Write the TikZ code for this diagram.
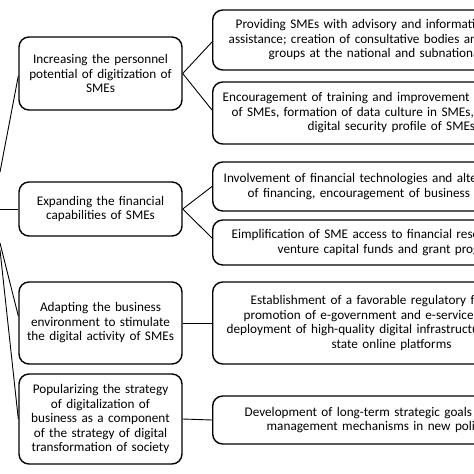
\documentclass[tikz,border=0pt]{standalone}
\usepackage{fontspec}
\setmainfont{Carlito}
\begin{document}
\begin{tikzpicture}[x=1pt,y=-1pt,
  txt/.style={font=\fontsize{13.2}{14.5}\selectfont},
  lbox/.style={txt, draw, line width=1.4pt, rounded corners=10pt, text width=160pt, align=center, inner sep=0pt, minimum width=163pt},
  rbox/.style={txt, draw, line width=1.4pt, rounded corners=10pt, anchor=west, text width=388pt, minimum width=388pt, align=left, inner sep=0pt},
  link/.style={line width=0.9pt}]
\useasboundingbox (0,0) rectangle (474,474);
\clip (0,0) rectangle (474,474);
\fill[white] (0,0) rectangle (474,474);

% left boxes
\node[lbox, minimum height=73pt] (b1) at (100.5,73.5) {Increasing the personnel\\potential of digitization of\\SMEs};
\node[lbox, minimum height=54pt] (b2) at (100.5,209) {Expanding the financial\\capabilities of SMEs};
\node[lbox, minimum height=82pt] (b3) at (100.5,323) {Adapting the business\\environment to stimulate\\the digital activity of SMEs};
\node[lbox, minimum height=90pt] (b4) at (100.5,419) {Popularizing the strategy\\of digitalization of\\business as a component\\of the strategy of digital\\transformation of society};

% right boxes
\node[rbox, minimum height=60pt] (r1) at (212,40) {\hspace*{23pt}Providing SMEs with advisory and information\\\hspace*{16pt}assistance; creation of consultative bodies and\\\hspace*{56pt}groups at the national and subnational};
\node[rbox, minimum height=62pt] (r2) at (212,113) {\hspace*{10pt}Encouragement of training and improvement\\\hspace*{19pt}of SMEs, formation of data culture in SMEs,\\\hspace*{95pt}digital security profile of SMEs};
\node[rbox, minimum height=49pt] (r3) at (212,186.5) {\hspace*{11pt}Involvement of financial technologies and alte\\\hspace*{35pt}of financing, encouragement of business};
\node[rbox, minimum height=45pt] (r4) at (212,242.5) {\hspace*{19pt}Eimplification of SME access to financial resc\\\hspace*{65pt}venture capital funds and grant prog};
\node[rbox, minimum height=82pt] (r5) at (212,323) {\hspace*{38pt}Establishment of a favorable regulatory f\\\hspace*{31pt}promotion of e-government and e-service\\\hspace*{14pt}deployment of high-quality digital infrastructu\\\hspace*{119pt}state online platforms};
\node[rbox, minimum height=48pt] (r6) at (212,420) {\hspace*{32pt}Development of long-term strategic goals\\\hspace*{54pt}management mechanisms in new poli};

% connectors from the (off-picture) root
\coordinate (s1) at (0,172);
\coordinate (s2) at (0,209);
\coordinate (s3) at (0,243);
\coordinate (s4) at (0,250);
\draw[link] (s1) -- ([yshift=-2.5pt]b1.west);
\draw[link] (s2) -- (b2.west);
\draw[link] (s3) -- ([yshift=7pt]b3.west);
\draw[link] (s4) -- (b4.west);

% connectors to the right boxes
\draw[link] (b1.east) -- ([yshift=-2pt]r1.west);
\draw[link] (b1.east) -- ([yshift=3pt]r2.west);
\draw[link] (b2.east) -- (r3.west);
\draw[link] (b2.east) -- ([yshift=4.5pt]r4.west);
\draw[link] (b3.east) -- (r5.west);
\draw[link] (b4.east) -- (r6.west);
\end{tikzpicture}
\end{document}
